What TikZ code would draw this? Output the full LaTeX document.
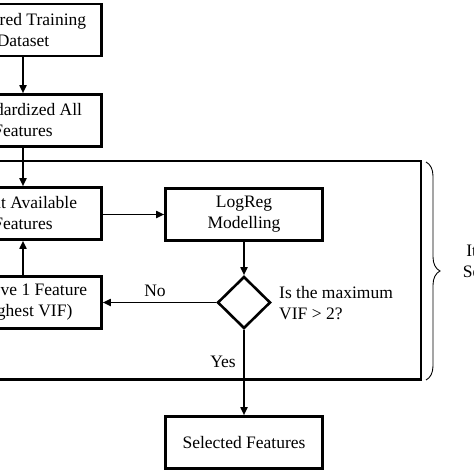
\documentclass[tikz,border=0pt]{standalone}
\usepackage{fontspec}
\setmainfont{Liberation Serif}
\usetikzlibrary{arrows.meta,shapes.geometric,decorations.pathreplacing}
\tikzset{
    stepbox/.style={draw, line width=2.6pt, minimum width=157pt, minimum height=52pt,
        inner sep=0pt, align=center},
    decision/.style={draw, diamond, line width=2.6pt, minimum width=53pt,
        minimum height=52pt, inner sep=0pt},
    flow/.style={line width=1.7pt, -{Triangle[length=8pt,width=7pt]}},
    lbl/.style={inner sep=0pt, align=left},
}
\begin{document}
\begin{tikzpicture}[x=1pt, y=-1pt, font=\fontsize{17.5}{21}\selectfont]
\useasboundingbox (0,0) rectangle (474,474);
\clip (0,0) rectangle (474,474);

  % left column
  \node[stepbox] (dataset)  at (23,30)    {Prepared Training\\Dataset};
  \node[stepbox] (standard) at (23,120.5) {Standardized All\\Features};
  \node[stepbox] (avail)    at (23,213.5) {Input Available\\Features};
  \node[stepbox] (remove)   at (23,302.5) {Remove 1 Feature\\(Highest VIF)};

  % right column
  \node[stepbox] (logreg)   at (244,214.5) {LogReg\\Modelling};
  \node[decision] (check)   at (244,302.5) {};
  \node[stepbox] (selected) at (244,442.5) {Selected Features};

  \node[lbl, anchor=west] (question) at (279,303) {Is the maximum\\VIF > 2?};
  \node[lbl] (no)  at (155,291) {No};
  \node[lbl] (yes) at (223,362) {Yes};

  % loop frame and brace
  \coordinate (loopNW) at (-80,161);
  \coordinate (loopSE) at (421,379.5);
  \draw[line width=2.6pt] (loopNW) rectangle (loopSE);
  \coordinate (braceTop) at (426,162);
  \coordinate (braceBot) at (426,380);
  \draw[line width=0.9pt, decorate, decoration={brace, amplitude=14pt}] (braceTop) -- (braceBot);
  \node[lbl, align=center] (iter) at (495.5,261.5) {Iterative\\Selection};

\draw[flow] (dataset) -- (standard);
\draw[flow] (standard) -- (avail);
\draw[flow] (avail.east |- logreg.west) -- (logreg.west);
\draw[flow] (logreg) -- (check);
\draw[flow] (check.west) -- (remove.east);
\draw[flow] (remove) -- (avail);
\draw[flow] (check) -- (selected);

\end{tikzpicture}
\end{document}
